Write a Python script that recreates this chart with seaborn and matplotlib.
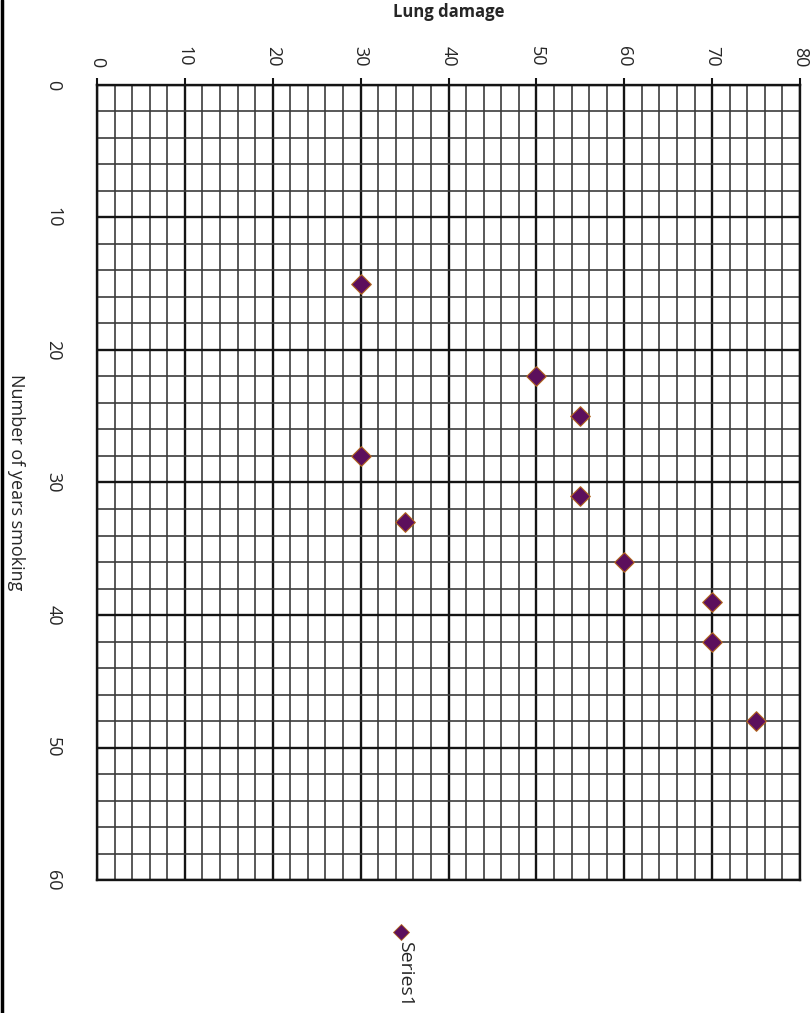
import numpy as np
import pandas as pd
import matplotlib.pyplot as plt
import seaborn as sns
from matplotlib.lines import Line2D
from matplotlib.ticker import MultipleLocator

# data
lung_damage = [30, 50, 55, 30, 55, 35, 60, 70, 70, 75]
years_smoking = [15, 22, 25, 28, 31, 33, 36, 39, 42, 48]
x_ticks = [0, 10, 20, 30, 40, 50, 60, 70, 80]
x_tick_labels = ['0', '10', '20', '30', '40', '50', '60', '70', '80']
y_ticks = [0, 10, 20, 30, 40, 50, 60]
y_tick_labels = ['0', '10', '20', '30', '40', '50', '60']

df = pd.DataFrame({'Lung damage': lung_damage, 'Number of years smoking': years_smoking})

sns.set_style('white')
plt.rcParams['font.family'] = ['Open Sans', 'DejaVu Sans']

fig = plt.figure(figsize=(8.1, 10.13), dpi=100)
ax = fig.add_axes([97/810, 1-880/1013, 703/810, 795/1013])

#gridlines first so points sit on top
ax.set_axisbelow(True)
ax.xaxis.set_minor_locator(MultipleLocator(2))
ax.yaxis.set_minor_locator(MultipleLocator(2))
ax.grid(which='major', color='#141414', linewidth=1.7)
ax.grid(which='minor', color='#3c3c3c', linewidth=1.2)

sns.scatterplot(data=df, x='Lung damage', y='Number of years smoking', marker='D',
                s=100, color='#5c0f5c', edgecolor='#b3661f', linewidth=0.8,
                ax=ax, zorder=5, legend=False)

ax.set_xlim(0, 80)
ax.set_ylim(60, 0)

ax.xaxis.tick_top()
ax.set_xticks(x_ticks)
ax.set_xticklabels(x_tick_labels, rotation=-90, fontsize=13, va='bottom', ha='center')
ax.set_yticks(y_ticks)
ax.set_yticklabels(y_tick_labels, rotation=-90, fontsize=13, va='center', ha='right')
ax.tick_params(which='major', direction='out', length=5, width=1.5, color='#141414')
ax.tick_params(axis='x', which='major', pad=8)
ax.tick_params(axis='y', which='major', pad=20)
ax.tick_params(which='minor', length=0)

for sp in ax.spines.values():
    sp.set_color('#141414')
    sp.set_linewidth(1.7)

ax.xaxis.set_label_position('top')
ax.set_xlabel('Lung damage', fontsize=12, fontweight='bold')
ax.xaxis.set_label_coords(0.5, 1 + (85-12)/795)
ax.xaxis.label.set_va('center')

ax.set_ylabel('Number of years smoking', fontsize=13, rotation=-90, va='center', ha='center')
ax.yaxis.set_label_coords((16-97)/703, 0.5)

# legend drawn by hand so the text can stand rotated like the rest
fig.add_artist(Line2D([401/810], [1-932/1013], marker='D', markersize=8,
                      color='#5c0f5c', markeredgecolor='#b3661f', markeredgewidth=0.6,
                      transform=fig.transFigure))
fig.text(405/810, 1-941/1013, 'Series1', rotation=-90, ha='center', va='top', fontsize=14)

# left border line of the original picture
fig.add_artist(Line2D([0.002, 0.002], [0, 1], color='black', linewidth=2.5,
                      transform=fig.transFigure))

fig.savefig('out.png', dpi=100)
